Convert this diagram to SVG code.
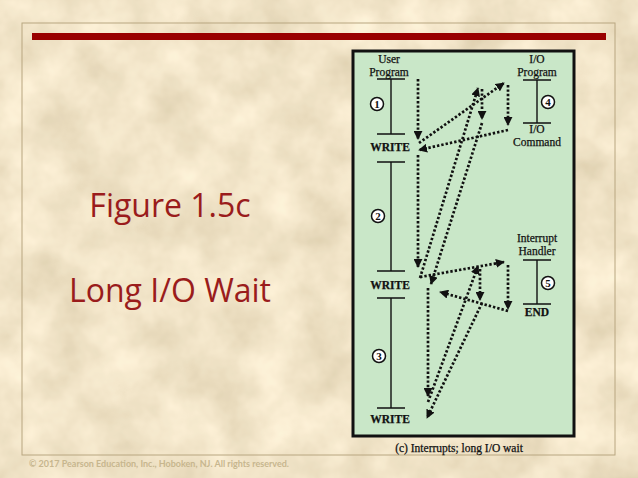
<svg xmlns="http://www.w3.org/2000/svg" width="638" height="478" viewBox="0 0 638 478">
<style>
.lbl{font-family:"Liberation Serif","Times New Roman",serif;font-size:11.5px;fill:#111;stroke:#111;stroke-width:0.25;text-anchor:middle}
.bold{font-weight:bold}
.title{font-family:"Open Sans","Noto Sans",sans-serif;font-size:32px;fill:#9a1c1c;text-anchor:middle}
.tl{stroke:#111;stroke-width:1.4;fill:none}
.num{font-family:"Liberation Serif",serif;font-size:11px;font-weight:bold;fill:#111;text-anchor:middle}
.circ{fill:#fff;stroke:#111;stroke-width:1.5}
.dot{stroke:#111;stroke-width:2.7;stroke-dasharray:2.4 2;fill:none;marker-end:url(#ah)}
</style>
<defs>
<filter id="paper" x="0" y="0" width="100%" height="100%">
<feTurbulence type="fractalNoise" baseFrequency="0.02" numOctaves="4" seed="7"/>
<feColorMatrix type="matrix" values="0.42 0 0 0 0.69  0.42 0 0 0 0.59  0.42 0 0 0 0.40  0 0 0 0 1"/>
</filter>
<marker id="ah" viewBox="0 0 10 10" refX="9" refY="5" markerWidth="9" markerHeight="9" markerUnits="userSpaceOnUse" orient="auto">
<path d="M0,0 L10,5 L0,10 z" fill="#111"/>
</marker>
</defs>
<rect x="0" y="0" width="638" height="478" fill="#e3cfa0"/>
<rect x="0" y="0" width="638" height="478" filter="url(#paper)" opacity="0.9"/>
<rect x="22" y="23" width="593" height="432" fill="none" stroke="#b8a680" stroke-width="1"/>
<rect x="32" y="33" width="574" height="7" fill="#990000"/>

<g id="title">
<text class="title" x="170" y="217">Figure 1.5c</text>
<text class="title" x="170" y="302">Long I/O Wait</text>
</g>

<g id="panel">
<rect x="353" y="51" width="221" height="385" fill="#c9e7c8" stroke="#111" stroke-width="3"/>
</g>

<g id="user-program">
<text class="lbl" x="389" y="63">User</text>
<text class="lbl" x="389" y="76">Program</text>
<path class="tl" d="M377,79H405M391,79V134M377,134H405M377,162H405M391,162V271M377,271H405M377,298H405M391,298V408M377,408H405"/>
<text class="lbl bold" x="390" y="151">WRITE</text>
<text class="lbl bold" x="390" y="289">WRITE</text>
<text class="lbl bold" x="390" y="423">WRITE</text>
<circle class="circ" cx="377" cy="104" r="6.5"/><text class="num" x="377" y="108">1</text>
<circle class="circ" cx="378" cy="216" r="6.5"/><text class="num" x="378" y="220">2</text>
<circle class="circ" cx="379" cy="356" r="6.5"/><text class="num" x="379" y="360">3</text>
</g>

<g id="io-program">
<text class="lbl" x="537" y="63">I/O</text>
<text class="lbl" x="537" y="76">Program</text>
<path class="tl" d="M523,80H551M537,80V123M523,123H551"/>
<text class="lbl" x="537" y="133">I/O</text>
<text class="lbl" x="537" y="146">Command</text>
<circle class="circ" cx="548" cy="102" r="6.5"/><text class="num" x="548" y="106">4</text>
</g>

<g id="interrupt-handler">
<text class="lbl" x="537" y="242">Interrupt</text>
<text class="lbl" x="537" y="255">Handler</text>
<path class="tl" d="M523,260H551M537,260V304M523,304H551"/>
<text class="lbl bold" x="537" y="316">END</text>
<circle class="circ" cx="548" cy="283" r="6.5"/><text class="num" x="548" y="287">5</text>
</g>

<g id="connectors">
<path class="dot" d="M418,79V139"/>
<path class="dot" d="M419,143L504,83"/>
<path class="dot" d="M508,85V125"/>
<path class="dot" d="M508,130L419,150"/>
<path class="dot" d="M418,155V267"/>
<path class="dot" d="M420,277L504,262"/>
<path class="dot" d="M508,265V309"/>
<path class="dot" d="M508,311L440,292"/>
<path class="dot" d="M420,278L478,88"/>
<path class="dot" d="M482,89V119"/>
<path class="dot" d="M482,123L431,284"/>
<path class="dot" d="M428,288V396"/>
<path class="dot" d="M428,402L478,266"/>
<path class="dot" d="M480,269V300"/>
<path class="dot" d="M482,303L427,418"/>
</g>

<text class="lbl" x="459" y="452" style="font-size:11.5px">(c) Interrupts; long I/O wait</text>
<text x="29" y="467" textLength="260" style="font-family:Lato,'Open Sans',sans-serif;font-size:9px;font-weight:bold;fill:#c7b68e">© 2017 Pearson Education, Inc., Hoboken, NJ. All rights reserved.</text>
</svg>
